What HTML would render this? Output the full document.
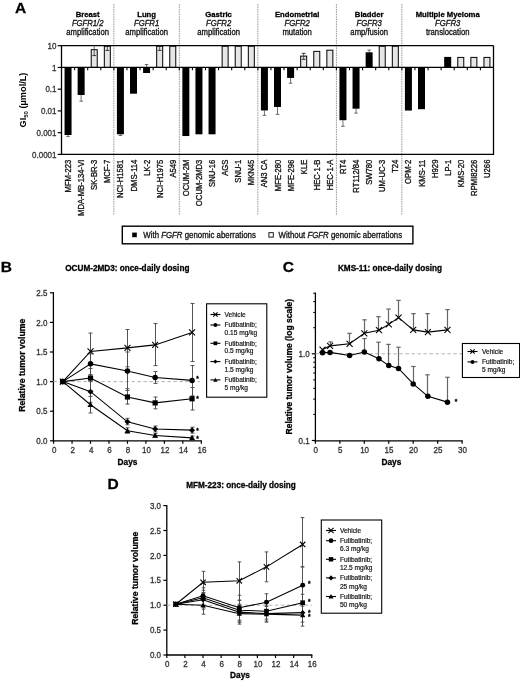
<!DOCTYPE html>
<html><head><meta charset="utf-8"><title>Futibatinib figure</title>
<style>
html,body{margin:0;padding:0;background:#fff;}
body{width:520px;height:681px;overflow:hidden;}
svg{display:block;font-family:"Liberation Sans",Arial,sans-serif;}
</style></head><body>
<svg width="520" height="681" viewBox="0 0 520 681">
<rect width="520" height="681" fill="#fff"/>
<text font-size="15.5" font-weight="bold" text-anchor="start" fill="#000" stroke="#000" stroke-width="0.28" transform="translate(15.00 13.40)">A</text>
<text font-size="15.5" font-weight="bold" text-anchor="start" fill="#000" stroke="#000" stroke-width="0.28" transform="translate(0.80 271.50)">B</text>
<text font-size="15.5" font-weight="bold" text-anchor="start" fill="#000" stroke="#000" stroke-width="0.28" transform="translate(282.80 271.80)">C</text>
<text font-size="15.5" font-weight="bold" text-anchor="start" fill="#000" stroke="#000" stroke-width="0.28" transform="translate(107.50 488.90)">D</text>
<line x1="113.86" y1="4.20" x2="113.86" y2="215.50" stroke="#8c8c8c" stroke-width="0.9" stroke-dasharray="1.5 0.9"/>
<line x1="179.32" y1="4.20" x2="179.32" y2="215.50" stroke="#8c8c8c" stroke-width="0.9" stroke-dasharray="1.5 0.9"/>
<line x1="257.86" y1="4.20" x2="257.86" y2="215.50" stroke="#8c8c8c" stroke-width="0.9" stroke-dasharray="1.5 0.9"/>
<line x1="336.41" y1="4.20" x2="336.41" y2="215.50" stroke="#8c8c8c" stroke-width="0.9" stroke-dasharray="1.5 0.9"/>
<line x1="401.86" y1="4.20" x2="401.86" y2="215.50" stroke="#8c8c8c" stroke-width="0.9" stroke-dasharray="1.5 0.9"/>
<text font-size="7.7" font-weight="bold" text-anchor="middle" fill="#000" stroke="#000" stroke-width="0.28" transform="translate(87.68 16.50)">Breast</text>
<text font-size="7.7" font-style="italic" text-anchor="middle" fill="#111" stroke="#111" stroke-width="0.28" transform="translate(87.68 25.80) scale(1 1.1)">FGFR1/2</text>
<text font-size="7.7" text-anchor="middle" fill="#111" stroke="#111" stroke-width="0.28" transform="translate(87.68 35.10) scale(1 1.1)">amplification</text>
<text font-size="7.7" font-weight="bold" text-anchor="middle" fill="#000" stroke="#000" stroke-width="0.28" transform="translate(146.59 16.50)">Lung</text>
<text font-size="7.7" font-style="italic" text-anchor="middle" fill="#111" stroke="#111" stroke-width="0.28" transform="translate(146.59 25.80) scale(1 1.1)">FGFR1</text>
<text font-size="7.7" text-anchor="middle" fill="#111" stroke="#111" stroke-width="0.28" transform="translate(146.59 35.10) scale(1 1.1)">amplification</text>
<text font-size="7.7" font-weight="bold" text-anchor="middle" fill="#000" stroke="#000" stroke-width="0.28" transform="translate(218.59 16.50)">Gastric</text>
<text font-size="7.7" font-style="italic" text-anchor="middle" fill="#111" stroke="#111" stroke-width="0.28" transform="translate(218.59 25.80) scale(1 1.1)">FGFR2</text>
<text font-size="7.7" text-anchor="middle" fill="#111" stroke="#111" stroke-width="0.28" transform="translate(218.59 35.10) scale(1 1.1)">amplification</text>
<text font-size="7.7" font-weight="bold" text-anchor="middle" fill="#000" stroke="#000" stroke-width="0.28" transform="translate(297.14 16.50)">Endometrial</text>
<text font-size="7.7" font-style="italic" text-anchor="middle" fill="#111" stroke="#111" stroke-width="0.28" transform="translate(297.14 25.80) scale(1 1.1)">FGFR2</text>
<text font-size="7.7" text-anchor="middle" fill="#111" stroke="#111" stroke-width="0.28" transform="translate(297.14 35.10) scale(1 1.1)">mutation</text>
<text font-size="7.7" font-weight="bold" text-anchor="middle" fill="#000" stroke="#000" stroke-width="0.28" transform="translate(369.14 16.50)">Bladder</text>
<text font-size="7.7" font-style="italic" text-anchor="middle" fill="#111" stroke="#111" stroke-width="0.28" transform="translate(369.14 25.80) scale(1 1.1)">FGFR3</text>
<text font-size="7.7" text-anchor="middle" fill="#111" stroke="#111" stroke-width="0.28" transform="translate(369.14 35.10) scale(1 1.1)">amp/fusion</text>
<text font-size="7.7" font-weight="bold" text-anchor="middle" fill="#000" stroke="#000" stroke-width="0.28" transform="translate(447.68 16.50)">Multiple Myeloma</text>
<text font-size="7.7" font-style="italic" text-anchor="middle" fill="#111" stroke="#111" stroke-width="0.28" transform="translate(447.68 25.80) scale(1 1.1)">FGFR3</text>
<text font-size="7.7" text-anchor="middle" fill="#111" stroke="#111" stroke-width="0.28" transform="translate(447.68 35.10) scale(1 1.1)">translocation</text>
<line x1="68.05" y1="135.01" x2="68.05" y2="136.60" stroke="#333" stroke-width="0.7" />
<line x1="66.25" y1="136.60" x2="69.85" y2="136.60" stroke="#333" stroke-width="0.7" />
<rect x="64.55" y="67.44" width="7.00" height="67.57" fill="#000" stroke="none" stroke-width="0"/>
<line x1="81.14" y1="95.00" x2="81.14" y2="101.20" stroke="#333" stroke-width="0.7" />
<line x1="79.34" y1="101.20" x2="82.94" y2="101.20" stroke="#333" stroke-width="0.7" />
<rect x="77.64" y="67.44" width="7.00" height="27.56" fill="#000" stroke="none" stroke-width="0"/>
<rect x="91.23" y="49.70" width="6.00" height="17.74" fill="#e6e6e6" stroke="#000" stroke-width="1"/>
<rect x="104.32" y="46.20" width="6.00" height="21.24" fill="#e6e6e6" stroke="#000" stroke-width="1"/>
<line x1="120.41" y1="134.31" x2="120.41" y2="135.50" stroke="#333" stroke-width="0.7" />
<line x1="118.61" y1="135.50" x2="122.21" y2="135.50" stroke="#333" stroke-width="0.7" />
<rect x="116.91" y="67.44" width="7.00" height="66.87" fill="#000" stroke="none" stroke-width="0"/>
<rect x="130.00" y="67.44" width="7.00" height="26.25" fill="#000" stroke="none" stroke-width="0"/>
<line x1="146.59" y1="73.00" x2="146.59" y2="64.50" stroke="#333" stroke-width="0.7" />
<line x1="144.79" y1="64.50" x2="148.39" y2="64.50" stroke="#333" stroke-width="0.7" />
<rect x="143.09" y="67.44" width="7.00" height="5.56" fill="#000" stroke="none" stroke-width="0"/>
<rect x="156.68" y="46.20" width="6.00" height="21.24" fill="#e6e6e6" stroke="#000" stroke-width="1"/>
<rect x="169.77" y="46.20" width="6.00" height="21.24" fill="#e6e6e6" stroke="#000" stroke-width="1"/>
<rect x="182.36" y="67.44" width="7.00" height="68.59" fill="#000" stroke="none" stroke-width="0"/>
<rect x="195.45" y="67.44" width="7.00" height="66.87" fill="#000" stroke="none" stroke-width="0"/>
<rect x="208.55" y="67.44" width="7.00" height="66.87" fill="#000" stroke="none" stroke-width="0"/>
<rect x="222.14" y="46.20" width="6.00" height="21.24" fill="#e6e6e6" stroke="#000" stroke-width="1"/>
<rect x="235.23" y="46.20" width="6.00" height="21.24" fill="#e6e6e6" stroke="#000" stroke-width="1"/>
<rect x="248.32" y="46.20" width="6.00" height="21.24" fill="#e6e6e6" stroke="#000" stroke-width="1"/>
<line x1="264.41" y1="110.46" x2="264.41" y2="115.40" stroke="#333" stroke-width="0.7" />
<line x1="262.61" y1="115.40" x2="266.21" y2="115.40" stroke="#333" stroke-width="0.7" />
<rect x="260.91" y="67.44" width="7.00" height="43.02" fill="#000" stroke="none" stroke-width="0"/>
<line x1="277.50" y1="106.97" x2="277.50" y2="114.40" stroke="#333" stroke-width="0.7" />
<line x1="275.70" y1="114.40" x2="279.30" y2="114.40" stroke="#333" stroke-width="0.7" />
<rect x="274.00" y="67.44" width="7.00" height="39.53" fill="#000" stroke="none" stroke-width="0"/>
<line x1="290.59" y1="77.91" x2="290.59" y2="83.20" stroke="#333" stroke-width="0.7" />
<line x1="288.79" y1="83.20" x2="292.39" y2="83.20" stroke="#333" stroke-width="0.7" />
<rect x="287.09" y="67.44" width="7.00" height="10.47" fill="#000" stroke="none" stroke-width="0"/>
<rect x="300.68" y="56.11" width="6.00" height="11.33" fill="#e6e6e6" stroke="#000" stroke-width="1"/>
<rect x="313.77" y="51.39" width="6.00" height="16.05" fill="#e6e6e6" stroke="#000" stroke-width="1"/>
<rect x="326.86" y="50.19" width="6.00" height="17.25" fill="#e6e6e6" stroke="#000" stroke-width="1"/>
<line x1="342.95" y1="120.21" x2="342.95" y2="126.30" stroke="#333" stroke-width="0.7" />
<line x1="341.15" y1="126.30" x2="344.75" y2="126.30" stroke="#333" stroke-width="0.7" />
<rect x="339.45" y="67.44" width="7.00" height="52.77" fill="#000" stroke="none" stroke-width="0"/>
<line x1="356.05" y1="108.70" x2="356.05" y2="113.10" stroke="#333" stroke-width="0.7" />
<line x1="354.25" y1="113.10" x2="357.85" y2="113.10" stroke="#333" stroke-width="0.7" />
<rect x="352.55" y="67.44" width="7.00" height="41.26" fill="#000" stroke="none" stroke-width="0"/>
<line x1="369.14" y1="52.30" x2="369.14" y2="50.00" stroke="#333" stroke-width="0.7" />
<line x1="367.34" y1="50.00" x2="370.94" y2="50.00" stroke="#333" stroke-width="0.7" />
<rect x="365.64" y="52.30" width="7.00" height="15.14" fill="#000" stroke="none" stroke-width="0"/>
<rect x="379.23" y="46.20" width="6.00" height="21.24" fill="#e6e6e6" stroke="#000" stroke-width="1"/>
<rect x="392.32" y="46.20" width="6.00" height="21.24" fill="#e6e6e6" stroke="#000" stroke-width="1"/>
<rect x="404.91" y="67.44" width="7.00" height="43.11" fill="#000" stroke="none" stroke-width="0"/>
<rect x="418.00" y="67.44" width="7.00" height="41.76" fill="#000" stroke="none" stroke-width="0"/>
<rect x="444.18" y="56.91" width="7.00" height="10.53" fill="#000" stroke="none" stroke-width="0"/>
<rect x="457.77" y="57.41" width="6.00" height="10.03" fill="#e6e6e6" stroke="#000" stroke-width="1"/>
<rect x="470.86" y="57.41" width="6.00" height="10.03" fill="#e6e6e6" stroke="#000" stroke-width="1"/>
<rect x="483.95" y="57.41" width="6.00" height="10.03" fill="#e6e6e6" stroke="#000" stroke-width="1"/>
<line x1="94.23" y1="46.60" x2="94.23" y2="55.60" stroke="#333" stroke-width="0.8" />
<line x1="92.33" y1="55.60" x2="96.13" y2="55.60" stroke="#222" stroke-width="0.9" />
<line x1="107.32" y1="45.70" x2="107.32" y2="50.40" stroke="#333" stroke-width="0.8" />
<line x1="105.42" y1="50.40" x2="109.22" y2="50.40" stroke="#222" stroke-width="0.9" />
<line x1="159.68" y1="45.70" x2="159.68" y2="50.40" stroke="#333" stroke-width="0.8" />
<line x1="157.78" y1="50.40" x2="161.58" y2="50.40" stroke="#222" stroke-width="0.9" />
<line x1="303.68" y1="53.30" x2="303.68" y2="59.30" stroke="#333" stroke-width="0.8" />
<line x1="301.78" y1="53.30" x2="305.58" y2="53.30" stroke="#222" stroke-width="0.9" />
<line x1="301.78" y1="59.30" x2="305.58" y2="59.30" stroke="#222" stroke-width="0.9" />
<line x1="61.50" y1="67.44" x2="493.50" y2="67.44" stroke="#000" stroke-width="1.2" />
<line x1="74.59" y1="67.44" x2="74.59" y2="70.24" stroke="#000" stroke-width="1.1" />
<line x1="87.68" y1="67.44" x2="87.68" y2="70.24" stroke="#000" stroke-width="1.1" />
<line x1="100.77" y1="67.44" x2="100.77" y2="70.24" stroke="#000" stroke-width="1.1" />
<line x1="113.86" y1="67.44" x2="113.86" y2="70.24" stroke="#000" stroke-width="1.1" />
<line x1="126.95" y1="67.44" x2="126.95" y2="70.24" stroke="#000" stroke-width="1.1" />
<line x1="140.05" y1="67.44" x2="140.05" y2="70.24" stroke="#000" stroke-width="1.1" />
<line x1="153.14" y1="67.44" x2="153.14" y2="70.24" stroke="#000" stroke-width="1.1" />
<line x1="166.23" y1="67.44" x2="166.23" y2="70.24" stroke="#000" stroke-width="1.1" />
<line x1="179.32" y1="67.44" x2="179.32" y2="70.24" stroke="#000" stroke-width="1.1" />
<line x1="192.41" y1="67.44" x2="192.41" y2="70.24" stroke="#000" stroke-width="1.1" />
<line x1="205.50" y1="67.44" x2="205.50" y2="70.24" stroke="#000" stroke-width="1.1" />
<line x1="218.59" y1="67.44" x2="218.59" y2="70.24" stroke="#000" stroke-width="1.1" />
<line x1="231.68" y1="67.44" x2="231.68" y2="70.24" stroke="#000" stroke-width="1.1" />
<line x1="244.77" y1="67.44" x2="244.77" y2="70.24" stroke="#000" stroke-width="1.1" />
<line x1="257.86" y1="67.44" x2="257.86" y2="70.24" stroke="#000" stroke-width="1.1" />
<line x1="270.95" y1="67.44" x2="270.95" y2="70.24" stroke="#000" stroke-width="1.1" />
<line x1="284.05" y1="67.44" x2="284.05" y2="70.24" stroke="#000" stroke-width="1.1" />
<line x1="297.14" y1="67.44" x2="297.14" y2="70.24" stroke="#000" stroke-width="1.1" />
<line x1="310.23" y1="67.44" x2="310.23" y2="70.24" stroke="#000" stroke-width="1.1" />
<line x1="323.32" y1="67.44" x2="323.32" y2="70.24" stroke="#000" stroke-width="1.1" />
<line x1="336.41" y1="67.44" x2="336.41" y2="70.24" stroke="#000" stroke-width="1.1" />
<line x1="349.50" y1="67.44" x2="349.50" y2="70.24" stroke="#000" stroke-width="1.1" />
<line x1="362.59" y1="67.44" x2="362.59" y2="70.24" stroke="#000" stroke-width="1.1" />
<line x1="375.68" y1="67.44" x2="375.68" y2="70.24" stroke="#000" stroke-width="1.1" />
<line x1="388.77" y1="67.44" x2="388.77" y2="70.24" stroke="#000" stroke-width="1.1" />
<line x1="401.86" y1="67.44" x2="401.86" y2="70.24" stroke="#000" stroke-width="1.1" />
<line x1="414.95" y1="67.44" x2="414.95" y2="70.24" stroke="#000" stroke-width="1.1" />
<line x1="428.05" y1="67.44" x2="428.05" y2="70.24" stroke="#000" stroke-width="1.1" />
<line x1="441.14" y1="67.44" x2="441.14" y2="70.24" stroke="#000" stroke-width="1.1" />
<line x1="454.23" y1="67.44" x2="454.23" y2="70.24" stroke="#000" stroke-width="1.1" />
<line x1="467.32" y1="67.44" x2="467.32" y2="70.24" stroke="#000" stroke-width="1.1" />
<line x1="480.41" y1="67.44" x2="480.41" y2="70.24" stroke="#000" stroke-width="1.1" />
<line x1="61.50" y1="45.70" x2="493.50" y2="45.70" stroke="#000" stroke-width="1.3" />
<line x1="493.50" y1="45.70" x2="493.50" y2="154.40" stroke="#000" stroke-width="1.3" />
<line x1="60.90" y1="154.40" x2="494.10" y2="154.40" stroke="#000" stroke-width="1.3" />
<line x1="61.50" y1="45.10" x2="61.50" y2="155.00" stroke="#000" stroke-width="1.3" />
<line x1="57.70" y1="45.70" x2="61.50" y2="45.70" stroke="#000" stroke-width="1.2" />
<text transform="translate(56.50 48.80) scale(1 1.15)" font-size="8" text-anchor="end" fill="#333" stroke="#333" stroke-width="0.28">10</text>
<line x1="57.70" y1="67.44" x2="61.50" y2="67.44" stroke="#000" stroke-width="1.2" />
<text transform="translate(56.50 70.54) scale(1 1.15)" font-size="8" text-anchor="end" fill="#333" stroke="#333" stroke-width="0.28">1</text>
<line x1="57.70" y1="89.18" x2="61.50" y2="89.18" stroke="#000" stroke-width="1.2" />
<text transform="translate(56.50 92.28) scale(1 1.15)" font-size="8" text-anchor="end" fill="#333" stroke="#333" stroke-width="0.28">0.1</text>
<line x1="57.70" y1="110.92" x2="61.50" y2="110.92" stroke="#000" stroke-width="1.2" />
<text transform="translate(56.50 114.02) scale(1 1.15)" font-size="8" text-anchor="end" fill="#333" stroke="#333" stroke-width="0.28">0.01</text>
<line x1="57.70" y1="132.66" x2="61.50" y2="132.66" stroke="#000" stroke-width="1.2" />
<text transform="translate(56.50 135.76) scale(1 1.15)" font-size="8" text-anchor="end" fill="#333" stroke="#333" stroke-width="0.28">0.001</text>
<line x1="57.70" y1="154.40" x2="61.50" y2="154.40" stroke="#000" stroke-width="1.2" />
<text transform="translate(56.50 157.50) scale(1 1.15)" font-size="8" text-anchor="end" fill="#333" stroke="#333" stroke-width="0.28">0.0001</text>
<text transform="translate(25.6 100.0) rotate(-90)" font-size="9.2" font-weight="bold" text-anchor="middle">GI<tspan font-size="6" dy="2.2">50</tspan><tspan dy="-2.2"> (µmol/L)</tspan></text>
<text font-size="7.7" text-anchor="end" fill="#111" stroke="#111" stroke-width="0.28" transform="translate(71.05 159.60) rotate(-90) scale(1 1.1)">MFM-223</text>
<text font-size="7.7" text-anchor="end" fill="#111" stroke="#111" stroke-width="0.28" transform="translate(84.14 159.60) rotate(-90) scale(1 1.1)">MDA-MB-134-VI</text>
<text font-size="7.7" text-anchor="end" fill="#111" stroke="#111" stroke-width="0.28" transform="translate(97.23 159.60) rotate(-90) scale(1 1.1)">SK-BR-3</text>
<text font-size="7.7" text-anchor="end" fill="#111" stroke="#111" stroke-width="0.28" transform="translate(110.32 159.60) rotate(-90) scale(1 1.1)">MCF-7</text>
<text font-size="7.7" text-anchor="end" fill="#111" stroke="#111" stroke-width="0.28" transform="translate(123.41 159.60) rotate(-90) scale(1 1.1)">NCI-H1581</text>
<text font-size="7.7" text-anchor="end" fill="#111" stroke="#111" stroke-width="0.28" transform="translate(136.50 159.60) rotate(-90) scale(1 1.1)">DMS-114</text>
<text font-size="7.7" text-anchor="end" fill="#111" stroke="#111" stroke-width="0.28" transform="translate(149.59 159.60) rotate(-90) scale(1 1.1)">LK-2</text>
<text font-size="7.7" text-anchor="end" fill="#111" stroke="#111" stroke-width="0.28" transform="translate(162.68 159.60) rotate(-90) scale(1 1.1)">NCI-H1975</text>
<text font-size="7.7" text-anchor="end" fill="#111" stroke="#111" stroke-width="0.28" transform="translate(175.77 159.60) rotate(-90) scale(1 1.1)">A549</text>
<text font-size="7.7" text-anchor="end" fill="#111" stroke="#111" stroke-width="0.28" transform="translate(188.86 159.60) rotate(-90) scale(1 1.1)">OCUM-2M</text>
<text font-size="7.7" text-anchor="end" fill="#111" stroke="#111" stroke-width="0.28" transform="translate(201.95 159.60) rotate(-90) scale(1 1.1)">OCUM-2MD3</text>
<text font-size="7.7" text-anchor="end" fill="#111" stroke="#111" stroke-width="0.28" transform="translate(215.05 159.60) rotate(-90) scale(1 1.1)">SNU-16</text>
<text font-size="7.7" text-anchor="end" fill="#111" stroke="#111" stroke-width="0.28" transform="translate(228.14 159.60) rotate(-90) scale(1 1.1)">AGS</text>
<text font-size="7.7" text-anchor="end" fill="#111" stroke="#111" stroke-width="0.28" transform="translate(241.23 159.60) rotate(-90) scale(1 1.1)">SNU-1</text>
<text font-size="7.7" text-anchor="end" fill="#111" stroke="#111" stroke-width="0.28" transform="translate(254.32 159.60) rotate(-90) scale(1 1.1)">MKN45</text>
<text font-size="7.7" text-anchor="end" fill="#111" stroke="#111" stroke-width="0.28" transform="translate(267.41 159.60) rotate(-90) scale(1 1.1)">AN3 CA</text>
<text font-size="7.7" text-anchor="end" fill="#111" stroke="#111" stroke-width="0.28" transform="translate(280.50 159.60) rotate(-90) scale(1 1.1)">MFE-280</text>
<text font-size="7.7" text-anchor="end" fill="#111" stroke="#111" stroke-width="0.28" transform="translate(293.59 159.60) rotate(-90) scale(1 1.1)">MFE-296</text>
<text font-size="7.7" text-anchor="end" fill="#111" stroke="#111" stroke-width="0.28" transform="translate(306.68 159.60) rotate(-90) scale(1 1.1)">KLE</text>
<text font-size="7.7" text-anchor="end" fill="#111" stroke="#111" stroke-width="0.28" transform="translate(319.77 159.60) rotate(-90) scale(1 1.1)">HEC-1-B</text>
<text font-size="7.7" text-anchor="end" fill="#111" stroke="#111" stroke-width="0.28" transform="translate(332.86 159.60) rotate(-90) scale(1 1.1)">HEC-1-A</text>
<text font-size="7.7" text-anchor="end" fill="#111" stroke="#111" stroke-width="0.28" transform="translate(345.95 159.60) rotate(-90) scale(1 1.1)">RT4</text>
<text font-size="7.7" text-anchor="end" fill="#111" stroke="#111" stroke-width="0.28" transform="translate(359.05 159.60) rotate(-90) scale(1 1.1)">RT112/84</text>
<text font-size="7.7" text-anchor="end" fill="#111" stroke="#111" stroke-width="0.28" transform="translate(372.14 159.60) rotate(-90) scale(1 1.1)">SW780</text>
<text font-size="7.7" text-anchor="end" fill="#111" stroke="#111" stroke-width="0.28" transform="translate(385.23 159.60) rotate(-90) scale(1 1.1)">UM-UC-3</text>
<text font-size="7.7" text-anchor="end" fill="#111" stroke="#111" stroke-width="0.28" transform="translate(398.32 159.60) rotate(-90) scale(1 1.1)">T24</text>
<text font-size="7.7" text-anchor="end" fill="#111" stroke="#111" stroke-width="0.28" transform="translate(411.41 159.60) rotate(-90) scale(1 1.1)">OPM-2</text>
<text font-size="7.7" text-anchor="end" fill="#111" stroke="#111" stroke-width="0.28" transform="translate(424.50 159.60) rotate(-90) scale(1 1.1)">KMS-11</text>
<text font-size="7.7" text-anchor="end" fill="#111" stroke="#111" stroke-width="0.28" transform="translate(437.59 159.60) rotate(-90) scale(1 1.1)">H929</text>
<text font-size="7.7" text-anchor="end" fill="#111" stroke="#111" stroke-width="0.28" transform="translate(450.68 159.60) rotate(-90) scale(1 1.1)">LP-1</text>
<text font-size="7.7" text-anchor="end" fill="#111" stroke="#111" stroke-width="0.28" transform="translate(463.77 159.60) rotate(-90) scale(1 1.1)">KMS-20</text>
<text font-size="7.7" text-anchor="end" fill="#111" stroke="#111" stroke-width="0.28" transform="translate(476.86 159.60) rotate(-90) scale(1 1.1)">RPMI8226</text>
<text font-size="7.7" text-anchor="end" fill="#111" stroke="#111" stroke-width="0.28" transform="translate(489.95 159.60) rotate(-90) scale(1 1.1)">U266</text>
<rect x="122.30" y="226.20" width="290.60" height="17.60" fill="none" stroke="#000" stroke-width="1.4"/>
<rect x="132.20" y="232.60" width="4.60" height="4.60" fill="#000" stroke="none" stroke-width="0"/>
<text font-size="7.85" text-anchor="start" fill="#111" stroke="#111" stroke-width="0.28" transform="translate(143.30 237.60) scale(1 1.1)">With <tspan font-style="italic">FGFR</tspan> genomic aberrations</text>
<rect x="268.90" y="232.70" width="4.40" height="4.40" fill="#fff" stroke="#000" stroke-width="0.9"/>
<text font-size="7.85" text-anchor="start" fill="#111" stroke="#111" stroke-width="0.28" transform="translate(278.60 237.60) scale(1 1.1)">Without <tspan font-style="italic">FGFR</tspan> genomic aberrations</text>
<line x1="53.40" y1="292.20" x2="53.40" y2="441.40" stroke="#000" stroke-width="1.3" />
<line x1="52.80" y1="440.80" x2="201.88" y2="440.80" stroke="#000" stroke-width="1.3" />
<line x1="53.60" y1="440.80" x2="53.60" y2="443.80" stroke="#000" stroke-width="1.2" />
<text transform="translate(54.20 452.70) scale(1 1.15)" font-size="8" text-anchor="middle" fill="#333" stroke="#333" stroke-width="0.28">0</text>
<line x1="72.06" y1="440.80" x2="72.06" y2="443.80" stroke="#000" stroke-width="1.2" />
<text transform="translate(72.66 452.70) scale(1 1.15)" font-size="8" text-anchor="middle" fill="#333" stroke="#333" stroke-width="0.28">2</text>
<line x1="90.52" y1="440.80" x2="90.52" y2="443.80" stroke="#000" stroke-width="1.2" />
<text transform="translate(91.12 452.70) scale(1 1.15)" font-size="8" text-anchor="middle" fill="#333" stroke="#333" stroke-width="0.28">4</text>
<line x1="108.98" y1="440.80" x2="108.98" y2="443.80" stroke="#000" stroke-width="1.2" />
<text transform="translate(109.58 452.70) scale(1 1.15)" font-size="8" text-anchor="middle" fill="#333" stroke="#333" stroke-width="0.28">6</text>
<line x1="127.44" y1="440.80" x2="127.44" y2="443.80" stroke="#000" stroke-width="1.2" />
<text transform="translate(128.04 452.70) scale(1 1.15)" font-size="8" text-anchor="middle" fill="#333" stroke="#333" stroke-width="0.28">8</text>
<line x1="145.90" y1="440.80" x2="145.90" y2="443.80" stroke="#000" stroke-width="1.2" />
<text transform="translate(146.50 452.70) scale(1 1.15)" font-size="8" text-anchor="middle" fill="#333" stroke="#333" stroke-width="0.28">10</text>
<line x1="164.36" y1="440.80" x2="164.36" y2="443.80" stroke="#000" stroke-width="1.2" />
<text transform="translate(164.96 452.70) scale(1 1.15)" font-size="8" text-anchor="middle" fill="#333" stroke="#333" stroke-width="0.28">12</text>
<line x1="182.82" y1="440.80" x2="182.82" y2="443.80" stroke="#000" stroke-width="1.2" />
<text transform="translate(183.42 452.70) scale(1 1.15)" font-size="8" text-anchor="middle" fill="#333" stroke="#333" stroke-width="0.28">14</text>
<line x1="201.28" y1="440.80" x2="201.28" y2="443.80" stroke="#000" stroke-width="1.2" />
<text transform="translate(201.88 452.70) scale(1 1.15)" font-size="8" text-anchor="middle" fill="#333" stroke="#333" stroke-width="0.28">16</text>
<line x1="50.00" y1="440.80" x2="53.40" y2="440.80" stroke="#000" stroke-width="1.2" />
<text transform="translate(47.40 443.90) scale(1 1.15)" font-size="8" text-anchor="end" fill="#333" stroke="#333" stroke-width="0.28">0.0</text>
<line x1="50.00" y1="411.20" x2="53.40" y2="411.20" stroke="#000" stroke-width="1.2" />
<text transform="translate(47.40 414.30) scale(1 1.15)" font-size="8" text-anchor="end" fill="#333" stroke="#333" stroke-width="0.28">0.5</text>
<line x1="50.00" y1="381.60" x2="53.40" y2="381.60" stroke="#000" stroke-width="1.2" />
<text transform="translate(47.40 384.70) scale(1 1.15)" font-size="8" text-anchor="end" fill="#333" stroke="#333" stroke-width="0.28">1.0</text>
<line x1="50.00" y1="352.00" x2="53.40" y2="352.00" stroke="#000" stroke-width="1.2" />
<text transform="translate(47.40 355.10) scale(1 1.15)" font-size="8" text-anchor="end" fill="#333" stroke="#333" stroke-width="0.28">1.5</text>
<line x1="50.00" y1="322.40" x2="53.40" y2="322.40" stroke="#000" stroke-width="1.2" />
<text transform="translate(47.40 325.50) scale(1 1.15)" font-size="8" text-anchor="end" fill="#333" stroke="#333" stroke-width="0.28">2.0</text>
<line x1="50.00" y1="292.80" x2="53.40" y2="292.80" stroke="#000" stroke-width="1.2" />
<text transform="translate(47.40 295.90) scale(1 1.15)" font-size="8" text-anchor="end" fill="#333" stroke="#333" stroke-width="0.28">2.5</text>
<text font-size="8.3" font-weight="bold" text-anchor="middle" fill="#000" stroke="#000" stroke-width="0.28" transform="translate(127.50 464.60)">Days</text>
<text font-size="8.7" font-weight="bold" text-anchor="middle" fill="#000" stroke="#000" stroke-width="0.28" transform="translate(25.20 365.20) rotate(-90)">Relative tumor volume</text>
<text font-size="8.2" font-weight="bold" text-anchor="middle" fill="#000" stroke="#000" stroke-width="0.28" transform="translate(127.30 270.60)">OCUM-2MD3: once-daily dosing</text>
<line x1="53.40" y1="381.60" x2="200.00" y2="381.60" stroke="#aaa" stroke-width="0.9" stroke-dasharray="3.5 2.5"/>
<line x1="90.50" y1="368.58" x2="90.50" y2="333.06" stroke="#4a4a4a" stroke-width="0.95" />
<line x1="88.50" y1="368.58" x2="92.50" y2="368.58" stroke="#4a4a4a" stroke-width="0.95" />
<line x1="88.50" y1="333.06" x2="92.50" y2="333.06" stroke="#4a4a4a" stroke-width="0.95" />
<line x1="127.50" y1="366.80" x2="127.50" y2="329.50" stroke="#4a4a4a" stroke-width="0.95" />
<line x1="125.50" y1="366.80" x2="129.50" y2="366.80" stroke="#4a4a4a" stroke-width="0.95" />
<line x1="125.50" y1="329.50" x2="129.50" y2="329.50" stroke="#4a4a4a" stroke-width="0.95" />
<line x1="155.50" y1="365.62" x2="155.50" y2="323.58" stroke="#4a4a4a" stroke-width="0.95" />
<line x1="153.50" y1="365.62" x2="157.50" y2="365.62" stroke="#4a4a4a" stroke-width="0.95" />
<line x1="153.50" y1="323.58" x2="157.50" y2="323.58" stroke="#4a4a4a" stroke-width="0.95" />
<line x1="192.50" y1="361.47" x2="192.50" y2="303.46" stroke="#4a4a4a" stroke-width="0.95" />
<line x1="190.50" y1="361.47" x2="194.50" y2="361.47" stroke="#4a4a4a" stroke-width="0.95" />
<line x1="190.50" y1="303.46" x2="194.50" y2="303.46" stroke="#4a4a4a" stroke-width="0.95" />
<line x1="90.50" y1="374.50" x2="90.50" y2="353.78" stroke="#4a4a4a" stroke-width="0.95" />
<line x1="88.50" y1="374.50" x2="92.50" y2="374.50" stroke="#4a4a4a" stroke-width="0.95" />
<line x1="88.50" y1="353.78" x2="92.50" y2="353.78" stroke="#4a4a4a" stroke-width="0.95" />
<line x1="127.50" y1="390.48" x2="127.50" y2="352.00" stroke="#4a4a4a" stroke-width="0.95" />
<line x1="125.50" y1="390.48" x2="129.50" y2="390.48" stroke="#4a4a4a" stroke-width="0.95" />
<line x1="125.50" y1="352.00" x2="129.50" y2="352.00" stroke="#4a4a4a" stroke-width="0.95" />
<line x1="155.50" y1="383.38" x2="155.50" y2="371.54" stroke="#4a4a4a" stroke-width="0.95" />
<line x1="153.50" y1="383.38" x2="157.50" y2="383.38" stroke="#4a4a4a" stroke-width="0.95" />
<line x1="153.50" y1="371.54" x2="157.50" y2="371.54" stroke="#4a4a4a" stroke-width="0.95" />
<line x1="192.50" y1="395.81" x2="192.50" y2="365.62" stroke="#4a4a4a" stroke-width="0.95" />
<line x1="190.50" y1="395.81" x2="194.50" y2="395.81" stroke="#4a4a4a" stroke-width="0.95" />
<line x1="190.50" y1="365.62" x2="194.50" y2="365.62" stroke="#4a4a4a" stroke-width="0.95" />
<line x1="90.50" y1="390.48" x2="90.50" y2="365.02" stroke="#4a4a4a" stroke-width="0.95" />
<line x1="88.50" y1="390.48" x2="92.50" y2="390.48" stroke="#4a4a4a" stroke-width="0.95" />
<line x1="88.50" y1="365.02" x2="92.50" y2="365.02" stroke="#4a4a4a" stroke-width="0.95" />
<line x1="127.50" y1="404.10" x2="127.50" y2="388.70" stroke="#4a4a4a" stroke-width="0.95" />
<line x1="125.50" y1="404.10" x2="129.50" y2="404.10" stroke="#4a4a4a" stroke-width="0.95" />
<line x1="125.50" y1="388.70" x2="129.50" y2="388.70" stroke="#4a4a4a" stroke-width="0.95" />
<line x1="155.50" y1="408.83" x2="155.50" y2="396.99" stroke="#4a4a4a" stroke-width="0.95" />
<line x1="153.50" y1="408.83" x2="157.50" y2="408.83" stroke="#4a4a4a" stroke-width="0.95" />
<line x1="153.50" y1="396.99" x2="157.50" y2="396.99" stroke="#4a4a4a" stroke-width="0.95" />
<line x1="192.50" y1="410.02" x2="192.50" y2="387.52" stroke="#4a4a4a" stroke-width="0.95" />
<line x1="190.50" y1="410.02" x2="194.50" y2="410.02" stroke="#4a4a4a" stroke-width="0.95" />
<line x1="190.50" y1="387.52" x2="194.50" y2="387.52" stroke="#4a4a4a" stroke-width="0.95" />
<line x1="90.50" y1="402.32" x2="90.50" y2="381.60" stroke="#4a4a4a" stroke-width="0.95" />
<line x1="88.50" y1="402.32" x2="92.50" y2="402.32" stroke="#4a4a4a" stroke-width="0.95" />
<line x1="88.50" y1="381.60" x2="92.50" y2="381.60" stroke="#4a4a4a" stroke-width="0.95" />
<line x1="127.50" y1="424.82" x2="127.50" y2="418.30" stroke="#4a4a4a" stroke-width="0.95" />
<line x1="125.50" y1="424.82" x2="129.50" y2="424.82" stroke="#4a4a4a" stroke-width="0.95" />
<line x1="125.50" y1="418.30" x2="129.50" y2="418.30" stroke="#4a4a4a" stroke-width="0.95" />
<line x1="155.50" y1="431.92" x2="155.50" y2="426.00" stroke="#4a4a4a" stroke-width="0.95" />
<line x1="153.50" y1="431.92" x2="157.50" y2="431.92" stroke="#4a4a4a" stroke-width="0.95" />
<line x1="153.50" y1="426.00" x2="157.50" y2="426.00" stroke="#4a4a4a" stroke-width="0.95" />
<line x1="192.50" y1="433.10" x2="192.50" y2="427.18" stroke="#4a4a4a" stroke-width="0.95" />
<line x1="190.50" y1="433.10" x2="194.50" y2="433.10" stroke="#4a4a4a" stroke-width="0.95" />
<line x1="190.50" y1="427.18" x2="194.50" y2="427.18" stroke="#4a4a4a" stroke-width="0.95" />
<line x1="90.50" y1="412.98" x2="90.50" y2="396.40" stroke="#4a4a4a" stroke-width="0.95" />
<line x1="88.50" y1="412.98" x2="92.50" y2="412.98" stroke="#4a4a4a" stroke-width="0.95" />
<line x1="88.50" y1="396.40" x2="92.50" y2="396.40" stroke="#4a4a4a" stroke-width="0.95" />
<line x1="127.50" y1="433.10" x2="127.50" y2="427.78" stroke="#4a4a4a" stroke-width="0.95" />
<line x1="125.50" y1="433.10" x2="129.50" y2="433.10" stroke="#4a4a4a" stroke-width="0.95" />
<line x1="125.50" y1="427.78" x2="129.50" y2="427.78" stroke="#4a4a4a" stroke-width="0.95" />
<line x1="155.50" y1="437.25" x2="155.50" y2="433.70" stroke="#4a4a4a" stroke-width="0.95" />
<line x1="153.50" y1="437.25" x2="157.50" y2="437.25" stroke="#4a4a4a" stroke-width="0.95" />
<line x1="153.50" y1="433.70" x2="157.50" y2="433.70" stroke="#4a4a4a" stroke-width="0.95" />
<line x1="192.50" y1="439.62" x2="192.50" y2="436.06" stroke="#4a4a4a" stroke-width="0.95" />
<line x1="190.50" y1="439.62" x2="194.50" y2="439.62" stroke="#4a4a4a" stroke-width="0.95" />
<line x1="190.50" y1="436.06" x2="194.50" y2="436.06" stroke="#4a4a4a" stroke-width="0.95" />
<polyline points="62.83,381.60 90.52,351.41 127.44,347.86 155.13,344.90 192.05,332.46" fill="none" stroke="#000" stroke-width="1.1"/>
<line x1="59.83" y1="378.60" x2="65.83" y2="384.60" stroke="#000" stroke-width="1.1" />
<line x1="59.83" y1="384.60" x2="65.83" y2="378.60" stroke="#000" stroke-width="1.1" />
<line x1="87.52" y1="348.41" x2="93.52" y2="354.41" stroke="#000" stroke-width="1.1" />
<line x1="87.52" y1="354.41" x2="93.52" y2="348.41" stroke="#000" stroke-width="1.1" />
<line x1="124.44" y1="344.86" x2="130.44" y2="350.86" stroke="#000" stroke-width="1.1" />
<line x1="124.44" y1="350.86" x2="130.44" y2="344.86" stroke="#000" stroke-width="1.1" />
<line x1="152.13" y1="341.90" x2="158.13" y2="347.90" stroke="#000" stroke-width="1.1" />
<line x1="152.13" y1="347.90" x2="158.13" y2="341.90" stroke="#000" stroke-width="1.1" />
<line x1="189.05" y1="329.46" x2="195.05" y2="335.46" stroke="#000" stroke-width="1.1" />
<line x1="189.05" y1="335.46" x2="195.05" y2="329.46" stroke="#000" stroke-width="1.1" />
<polyline points="62.83,381.60 90.52,363.84 127.44,370.94 155.13,377.46 192.05,380.42" fill="none" stroke="#000" stroke-width="1.1"/>
<circle cx="62.83" cy="381.60" r="2.75" fill="#000"/>
<circle cx="90.52" cy="363.84" r="2.75" fill="#000"/>
<circle cx="127.44" cy="370.94" r="2.75" fill="#000"/>
<circle cx="155.13" cy="377.46" r="2.75" fill="#000"/>
<circle cx="192.05" cy="380.42" r="2.75" fill="#000"/>
<polyline points="62.83,381.60 90.52,378.05 127.44,396.99 155.13,402.91 192.05,398.77" fill="none" stroke="#000" stroke-width="1.1"/>
<rect x="60.23" y="379.00" width="5.20" height="5.20" fill="#000" stroke="none" stroke-width="0"/>
<rect x="87.92" y="375.45" width="5.20" height="5.20" fill="#000" stroke="none" stroke-width="0"/>
<rect x="124.84" y="394.39" width="5.20" height="5.20" fill="#000" stroke="none" stroke-width="0"/>
<rect x="152.53" y="400.31" width="5.20" height="5.20" fill="#000" stroke="none" stroke-width="0"/>
<rect x="189.45" y="396.17" width="5.20" height="5.20" fill="#000" stroke="none" stroke-width="0"/>
<polyline points="62.83,381.60 90.52,391.66 127.44,421.86 155.13,428.96 192.05,430.14" fill="none" stroke="#000" stroke-width="1.1"/>
<polygon points="62.83,378.60 65.83,381.60 62.83,384.60 59.83,381.60" fill="#000"/>
<polygon points="90.52,388.66 93.52,391.66 90.52,394.66 87.52,391.66" fill="#000"/>
<polygon points="127.44,418.86 130.44,421.86 127.44,424.86 124.44,421.86" fill="#000"/>
<polygon points="155.13,425.96 158.13,428.96 155.13,431.96 152.13,428.96" fill="#000"/>
<polygon points="192.05,427.14 195.05,430.14 192.05,433.14 189.05,430.14" fill="#000"/>
<polyline points="62.83,381.60 90.52,404.69 127.44,430.74 155.13,435.47 192.05,437.84" fill="none" stroke="#000" stroke-width="1.1"/>
<polygon points="62.83,378.60 65.83,384.00 59.83,384.00" fill="#000"/>
<polygon points="90.52,401.69 93.52,407.09 87.52,407.09" fill="#000"/>
<polygon points="127.44,427.74 130.44,433.14 124.44,433.14" fill="#000"/>
<polygon points="155.13,432.47 158.13,437.87 152.13,437.87" fill="#000"/>
<polygon points="192.05,434.84 195.05,440.24 189.05,440.24" fill="#000"/>
<text font-size="6.5" font-weight="bold" text-anchor="start" fill="#000" stroke="#000" stroke-width="0.28" transform="translate(196.30 381.10)">*</text>
<text font-size="6.5" font-weight="bold" text-anchor="start" fill="#000" stroke="#000" stroke-width="0.28" transform="translate(196.30 400.70)">*</text>
<text font-size="6.5" font-weight="bold" text-anchor="start" fill="#000" stroke="#000" stroke-width="0.28" transform="translate(196.30 432.95)">*</text>
<text font-size="6.5" font-weight="bold" text-anchor="start" fill="#000" stroke="#000" stroke-width="0.28" transform="translate(196.30 441.30)">*</text>
<rect x="206.60" y="303.80" width="60.20" height="93.40" fill="#fff" stroke="#000" stroke-width="1.1"/>
<line x1="210.40" y1="314.50" x2="220.40" y2="314.50" stroke="#000" stroke-width="1.1" />
<line x1="213.24" y1="312.34" x2="217.56" y2="316.66" stroke="#000" stroke-width="1.1" />
<line x1="213.24" y1="316.66" x2="217.56" y2="312.34" stroke="#000" stroke-width="1.1" />
<text font-size="6.6" text-anchor="start" fill="#111" stroke="#111" stroke-width="0.18" transform="translate(224.50 316.80)">Vehicle</text>
<line x1="210.40" y1="325.00" x2="220.40" y2="325.00" stroke="#000" stroke-width="1.1" />
<circle cx="215.40" cy="325.00" r="1.98" fill="#000"/>
<text font-size="6.6" text-anchor="start" fill="#111" stroke="#111" stroke-width="0.18" transform="translate(224.50 327.30)">Futibatinib;</text>
<text font-size="6.6" text-anchor="start" fill="#111" stroke="#111" stroke-width="0.18" transform="translate(224.50 335.10)">0.15 mg/kg</text>
<line x1="210.40" y1="343.30" x2="220.40" y2="343.30" stroke="#000" stroke-width="1.1" />
<rect x="213.53" y="341.43" width="3.74" height="3.74" fill="#000" stroke="none" stroke-width="0"/>
<text font-size="6.6" text-anchor="start" fill="#111" stroke="#111" stroke-width="0.18" transform="translate(224.50 345.60)">Futibatinib;</text>
<text font-size="6.6" text-anchor="start" fill="#111" stroke="#111" stroke-width="0.18" transform="translate(224.50 353.40)">0.5 mg/kg</text>
<line x1="210.40" y1="361.60" x2="220.40" y2="361.60" stroke="#000" stroke-width="1.1" />
<polygon points="215.40,359.44 217.56,361.60 215.40,363.76 213.24,361.60" fill="#000"/>
<text font-size="6.6" text-anchor="start" fill="#111" stroke="#111" stroke-width="0.18" transform="translate(224.50 363.90)">Futibatinib;</text>
<text font-size="6.6" text-anchor="start" fill="#111" stroke="#111" stroke-width="0.18" transform="translate(224.50 371.70)">1.5 mg/kg</text>
<line x1="210.40" y1="379.90" x2="220.40" y2="379.90" stroke="#000" stroke-width="1.1" />
<polygon points="215.40,377.74 217.56,381.63 213.24,381.63" fill="#000"/>
<text font-size="6.6" text-anchor="start" fill="#111" stroke="#111" stroke-width="0.18" transform="translate(224.50 382.20)">Futibatinib;</text>
<text font-size="6.6" text-anchor="start" fill="#111" stroke="#111" stroke-width="0.18" transform="translate(224.50 390.00)">5 mg/kg</text>
<line x1="315.40" y1="292.60" x2="315.40" y2="441.40" stroke="#000" stroke-width="1.3" />
<line x1="314.80" y1="440.80" x2="462.70" y2="440.80" stroke="#000" stroke-width="1.3" />
<line x1="315.40" y1="440.80" x2="315.40" y2="443.80" stroke="#000" stroke-width="1.2" />
<text transform="translate(315.70 452.70) scale(1 1.15)" font-size="8" text-anchor="middle" fill="#333" stroke="#333" stroke-width="0.28">0</text>
<line x1="339.85" y1="440.80" x2="339.85" y2="443.80" stroke="#000" stroke-width="1.2" />
<text transform="translate(340.15 452.70) scale(1 1.15)" font-size="8" text-anchor="middle" fill="#333" stroke="#333" stroke-width="0.28">5</text>
<line x1="364.30" y1="440.80" x2="364.30" y2="443.80" stroke="#000" stroke-width="1.2" />
<text transform="translate(364.60 452.70) scale(1 1.15)" font-size="8" text-anchor="middle" fill="#333" stroke="#333" stroke-width="0.28">10</text>
<line x1="388.75" y1="440.80" x2="388.75" y2="443.80" stroke="#000" stroke-width="1.2" />
<text transform="translate(389.05 452.70) scale(1 1.15)" font-size="8" text-anchor="middle" fill="#333" stroke="#333" stroke-width="0.28">15</text>
<line x1="413.20" y1="440.80" x2="413.20" y2="443.80" stroke="#000" stroke-width="1.2" />
<text transform="translate(413.50 452.70) scale(1 1.15)" font-size="8" text-anchor="middle" fill="#333" stroke="#333" stroke-width="0.28">20</text>
<line x1="437.65" y1="440.80" x2="437.65" y2="443.80" stroke="#000" stroke-width="1.2" />
<text transform="translate(437.95 452.70) scale(1 1.15)" font-size="8" text-anchor="middle" fill="#333" stroke="#333" stroke-width="0.28">25</text>
<line x1="462.10" y1="440.80" x2="462.10" y2="443.80" stroke="#000" stroke-width="1.2" />
<text transform="translate(462.40 452.70) scale(1 1.15)" font-size="8" text-anchor="middle" fill="#333" stroke="#333" stroke-width="0.28">30</text>
<line x1="313.20" y1="414.40" x2="315.40" y2="414.40" stroke="#000" stroke-width="1.0" />
<line x1="313.20" y1="399.13" x2="315.40" y2="399.13" stroke="#000" stroke-width="1.0" />
<line x1="313.20" y1="388.30" x2="315.40" y2="388.30" stroke="#000" stroke-width="1.0" />
<line x1="313.20" y1="379.90" x2="315.40" y2="379.90" stroke="#000" stroke-width="1.0" />
<line x1="313.20" y1="373.03" x2="315.40" y2="373.03" stroke="#000" stroke-width="1.0" />
<line x1="313.20" y1="367.23" x2="315.40" y2="367.23" stroke="#000" stroke-width="1.0" />
<line x1="313.20" y1="362.20" x2="315.40" y2="362.20" stroke="#000" stroke-width="1.0" />
<line x1="313.20" y1="357.77" x2="315.40" y2="357.77" stroke="#000" stroke-width="1.0" />
<line x1="313.20" y1="327.70" x2="315.40" y2="327.70" stroke="#000" stroke-width="1.0" />
<line x1="313.20" y1="312.43" x2="315.40" y2="312.43" stroke="#000" stroke-width="1.0" />
<line x1="313.20" y1="301.60" x2="315.40" y2="301.60" stroke="#000" stroke-width="1.0" />
<line x1="313.20" y1="293.20" x2="315.40" y2="293.20" stroke="#000" stroke-width="1.0" />
<line x1="311.80" y1="440.50" x2="315.40" y2="440.50" stroke="#000" stroke-width="1.2" />
<text transform="translate(309.60 443.60) scale(1 1.15)" font-size="8" text-anchor="end" fill="#333" stroke="#333" stroke-width="0.28">0.1</text>
<line x1="311.80" y1="353.80" x2="315.40" y2="353.80" stroke="#000" stroke-width="1.2" />
<text transform="translate(309.60 356.90) scale(1 1.15)" font-size="8" text-anchor="end" fill="#333" stroke="#333" stroke-width="0.28">1.0</text>
<text font-size="8.3" font-weight="bold" text-anchor="middle" fill="#000" stroke="#000" stroke-width="0.28" transform="translate(391.40 464.60)">Days</text>
<text font-size="8.5" font-weight="bold" text-anchor="middle" fill="#000" stroke="#000" stroke-width="0.28" transform="translate(292.40 366.70) rotate(-90)">Relative tumor volume (log scale)</text>
<text font-size="8.2" font-weight="bold" text-anchor="middle" fill="#000" stroke="#000" stroke-width="0.28" transform="translate(390.00 270.80)">KMS-11: once-daily dosing</text>
<line x1="315.40" y1="353.80" x2="462.00" y2="353.80" stroke="#aaa" stroke-width="0.9" stroke-dasharray="3.5 2.5"/>
<line x1="330.50" y1="345.91" x2="330.50" y2="341.89" stroke="#666" stroke-width="1.2" />
<line x1="328.30" y1="341.89" x2="332.70" y2="341.89" stroke="#666" stroke-width="1.2" />
<line x1="349.50" y1="343.81" x2="349.50" y2="333.31" stroke="#666" stroke-width="1.2" />
<line x1="347.30" y1="333.31" x2="351.70" y2="333.31" stroke="#666" stroke-width="1.2" />
<line x1="364.50" y1="333.31" x2="364.50" y2="319.80" stroke="#666" stroke-width="1.2" />
<line x1="362.30" y1="319.80" x2="366.70" y2="319.80" stroke="#666" stroke-width="1.2" />
<line x1="378.50" y1="330.21" x2="378.50" y2="316.69" stroke="#666" stroke-width="1.2" />
<line x1="376.30" y1="316.69" x2="380.70" y2="316.69" stroke="#666" stroke-width="1.2" />
<line x1="388.50" y1="324.40" x2="388.50" y2="309.02" stroke="#666" stroke-width="1.2" />
<line x1="386.30" y1="309.02" x2="390.70" y2="309.02" stroke="#666" stroke-width="1.2" />
<line x1="398.50" y1="317.61" x2="398.50" y2="300.40" stroke="#666" stroke-width="1.2" />
<line x1="396.30" y1="300.40" x2="400.70" y2="300.40" stroke="#666" stroke-width="1.2" />
<line x1="413.50" y1="329.89" x2="413.50" y2="313.62" stroke="#666" stroke-width="1.2" />
<line x1="411.30" y1="313.62" x2="415.70" y2="313.62" stroke="#666" stroke-width="1.2" />
<line x1="427.50" y1="332.11" x2="427.50" y2="313.62" stroke="#666" stroke-width="1.2" />
<line x1="425.30" y1="313.62" x2="429.70" y2="313.62" stroke="#666" stroke-width="1.2" />
<line x1="447.50" y1="329.89" x2="447.50" y2="309.61" stroke="#666" stroke-width="1.2" />
<line x1="445.30" y1="309.61" x2="449.70" y2="309.61" stroke="#666" stroke-width="1.2" />
<line x1="364.50" y1="352.00" x2="364.50" y2="338.53" stroke="#666" stroke-width="1.2" />
<line x1="362.30" y1="338.53" x2="366.70" y2="338.53" stroke="#666" stroke-width="1.2" />
<line x1="378.50" y1="358.78" x2="378.50" y2="342.22" stroke="#666" stroke-width="1.2" />
<line x1="376.30" y1="342.22" x2="380.70" y2="342.22" stroke="#666" stroke-width="1.2" />
<line x1="388.50" y1="365.60" x2="388.50" y2="344.39" stroke="#666" stroke-width="1.2" />
<line x1="386.30" y1="344.39" x2="390.70" y2="344.39" stroke="#666" stroke-width="1.2" />
<line x1="398.50" y1="368.38" x2="398.50" y2="347.22" stroke="#666" stroke-width="1.2" />
<line x1="396.30" y1="347.22" x2="400.70" y2="347.22" stroke="#666" stroke-width="1.2" />
<line x1="413.50" y1="383.95" x2="413.50" y2="366.48" stroke="#666" stroke-width="1.2" />
<line x1="411.30" y1="366.48" x2="415.70" y2="366.48" stroke="#666" stroke-width="1.2" />
<line x1="427.50" y1="396.35" x2="427.50" y2="374.77" stroke="#666" stroke-width="1.2" />
<line x1="425.30" y1="374.77" x2="429.70" y2="374.77" stroke="#666" stroke-width="1.2" />
<line x1="447.50" y1="402.14" x2="447.50" y2="377.28" stroke="#666" stroke-width="1.2" />
<line x1="445.30" y1="377.28" x2="449.70" y2="377.28" stroke="#666" stroke-width="1.2" />
<polyline points="322.49,349.60 330.07,345.91 349.63,343.81 364.30,333.31 378.97,330.21 388.75,324.40 398.53,317.61 413.20,329.89 427.87,332.11 447.43,329.89" fill="none" stroke="#000" stroke-width="1.1"/>
<line x1="319.49" y1="346.60" x2="325.49" y2="352.60" stroke="#000" stroke-width="1.1" />
<line x1="319.49" y1="352.60" x2="325.49" y2="346.60" stroke="#000" stroke-width="1.1" />
<line x1="327.07" y1="342.91" x2="333.07" y2="348.91" stroke="#000" stroke-width="1.1" />
<line x1="327.07" y1="348.91" x2="333.07" y2="342.91" stroke="#000" stroke-width="1.1" />
<line x1="346.63" y1="340.81" x2="352.63" y2="346.81" stroke="#000" stroke-width="1.1" />
<line x1="346.63" y1="346.81" x2="352.63" y2="340.81" stroke="#000" stroke-width="1.1" />
<line x1="361.30" y1="330.31" x2="367.30" y2="336.31" stroke="#000" stroke-width="1.1" />
<line x1="361.30" y1="336.31" x2="367.30" y2="330.31" stroke="#000" stroke-width="1.1" />
<line x1="375.97" y1="327.21" x2="381.97" y2="333.21" stroke="#000" stroke-width="1.1" />
<line x1="375.97" y1="333.21" x2="381.97" y2="327.21" stroke="#000" stroke-width="1.1" />
<line x1="385.75" y1="321.40" x2="391.75" y2="327.40" stroke="#000" stroke-width="1.1" />
<line x1="385.75" y1="327.40" x2="391.75" y2="321.40" stroke="#000" stroke-width="1.1" />
<line x1="395.53" y1="314.61" x2="401.53" y2="320.61" stroke="#000" stroke-width="1.1" />
<line x1="395.53" y1="320.61" x2="401.53" y2="314.61" stroke="#000" stroke-width="1.1" />
<line x1="410.20" y1="326.89" x2="416.20" y2="332.89" stroke="#000" stroke-width="1.1" />
<line x1="410.20" y1="332.89" x2="416.20" y2="326.89" stroke="#000" stroke-width="1.1" />
<line x1="424.87" y1="329.11" x2="430.87" y2="335.11" stroke="#000" stroke-width="1.1" />
<line x1="424.87" y1="335.11" x2="430.87" y2="329.11" stroke="#000" stroke-width="1.1" />
<line x1="444.43" y1="326.89" x2="450.43" y2="332.89" stroke="#000" stroke-width="1.1" />
<line x1="444.43" y1="332.89" x2="450.43" y2="326.89" stroke="#000" stroke-width="1.1" />
<polyline points="322.49,352.69 330.07,352.40 349.63,355.49 364.30,352.00 378.97,358.78 388.75,365.60 398.53,368.38 413.20,383.95 427.87,396.35 447.43,402.14" fill="none" stroke="#000" stroke-width="1.1"/>
<circle cx="322.49" cy="352.69" r="2.75" fill="#000"/>
<circle cx="330.07" cy="352.40" r="2.75" fill="#000"/>
<circle cx="349.63" cy="355.49" r="2.75" fill="#000"/>
<circle cx="364.30" cy="352.00" r="2.75" fill="#000"/>
<circle cx="378.97" cy="358.78" r="2.75" fill="#000"/>
<circle cx="388.75" cy="365.60" r="2.75" fill="#000"/>
<circle cx="398.53" cy="368.38" r="2.75" fill="#000"/>
<circle cx="413.20" cy="383.95" r="2.75" fill="#000"/>
<circle cx="427.87" cy="396.35" r="2.75" fill="#000"/>
<circle cx="447.43" cy="402.14" r="2.75" fill="#000"/>
<text font-size="6.5" font-weight="bold" text-anchor="start" fill="#000" stroke="#000" stroke-width="0.28" transform="translate(454.80 404.00)">*</text>
<rect x="462.40" y="343.50" width="57.20" height="34.00" fill="#fff" stroke="#000" stroke-width="1.1"/>
<line x1="467.50" y1="351.50" x2="477.50" y2="351.50" stroke="#000" stroke-width="1.1" />
<line x1="470.34" y1="349.34" x2="474.66" y2="353.66" stroke="#000" stroke-width="1.1" />
<line x1="470.34" y1="353.66" x2="474.66" y2="349.34" stroke="#000" stroke-width="1.1" />
<text font-size="6.6" text-anchor="start" fill="#111" stroke="#111" stroke-width="0.18" transform="translate(482.00 353.80)">Vehicle</text>
<line x1="467.50" y1="361.90" x2="477.50" y2="361.90" stroke="#000" stroke-width="1.1" />
<circle cx="472.50" cy="361.90" r="1.98" fill="#000"/>
<text font-size="6.6" text-anchor="start" fill="#111" stroke="#111" stroke-width="0.18" transform="translate(482.00 364.20)">Futibatinib;</text>
<text font-size="6.6" text-anchor="start" fill="#111" stroke="#111" stroke-width="0.18" transform="translate(482.00 372.30)">5 mg/kg</text>
<line x1="166.80" y1="505.00" x2="166.80" y2="655.60" stroke="#000" stroke-width="1.3" />
<line x1="166.20" y1="655.00" x2="312.36" y2="655.00" stroke="#000" stroke-width="1.3" />
<line x1="166.80" y1="655.00" x2="166.80" y2="658.00" stroke="#000" stroke-width="1.2" />
<text transform="translate(167.30 667.10) scale(1 1.15)" font-size="8" text-anchor="middle" fill="#333" stroke="#333" stroke-width="0.28">0</text>
<line x1="184.92" y1="655.00" x2="184.92" y2="658.00" stroke="#000" stroke-width="1.2" />
<text transform="translate(185.42 667.10) scale(1 1.15)" font-size="8" text-anchor="middle" fill="#333" stroke="#333" stroke-width="0.28">2</text>
<line x1="203.04" y1="655.00" x2="203.04" y2="658.00" stroke="#000" stroke-width="1.2" />
<text transform="translate(203.54 667.10) scale(1 1.15)" font-size="8" text-anchor="middle" fill="#333" stroke="#333" stroke-width="0.28">4</text>
<line x1="221.16" y1="655.00" x2="221.16" y2="658.00" stroke="#000" stroke-width="1.2" />
<text transform="translate(221.66 667.10) scale(1 1.15)" font-size="8" text-anchor="middle" fill="#333" stroke="#333" stroke-width="0.28">6</text>
<line x1="239.28" y1="655.00" x2="239.28" y2="658.00" stroke="#000" stroke-width="1.2" />
<text transform="translate(239.78 667.10) scale(1 1.15)" font-size="8" text-anchor="middle" fill="#333" stroke="#333" stroke-width="0.28">8</text>
<line x1="257.40" y1="655.00" x2="257.40" y2="658.00" stroke="#000" stroke-width="1.2" />
<text transform="translate(257.90 667.10) scale(1 1.15)" font-size="8" text-anchor="middle" fill="#333" stroke="#333" stroke-width="0.28">10</text>
<line x1="275.52" y1="655.00" x2="275.52" y2="658.00" stroke="#000" stroke-width="1.2" />
<text transform="translate(276.02 667.10) scale(1 1.15)" font-size="8" text-anchor="middle" fill="#333" stroke="#333" stroke-width="0.28">12</text>
<line x1="293.64" y1="655.00" x2="293.64" y2="658.00" stroke="#000" stroke-width="1.2" />
<text transform="translate(294.14 667.10) scale(1 1.15)" font-size="8" text-anchor="middle" fill="#333" stroke="#333" stroke-width="0.28">14</text>
<line x1="311.76" y1="655.00" x2="311.76" y2="658.00" stroke="#000" stroke-width="1.2" />
<text transform="translate(312.26 667.10) scale(1 1.15)" font-size="8" text-anchor="middle" fill="#333" stroke="#333" stroke-width="0.28">16</text>
<line x1="163.40" y1="655.00" x2="166.80" y2="655.00" stroke="#000" stroke-width="1.2" />
<text transform="translate(161.00 658.10) scale(1 1.15)" font-size="8" text-anchor="end" fill="#333" stroke="#333" stroke-width="0.28">0.0</text>
<line x1="163.40" y1="630.10" x2="166.80" y2="630.10" stroke="#000" stroke-width="1.2" />
<text transform="translate(161.00 633.20) scale(1 1.15)" font-size="8" text-anchor="end" fill="#333" stroke="#333" stroke-width="0.28">0.5</text>
<line x1="163.40" y1="605.20" x2="166.80" y2="605.20" stroke="#000" stroke-width="1.2" />
<text transform="translate(161.00 608.30) scale(1 1.15)" font-size="8" text-anchor="end" fill="#333" stroke="#333" stroke-width="0.28">1.0</text>
<line x1="163.40" y1="580.30" x2="166.80" y2="580.30" stroke="#000" stroke-width="1.2" />
<text transform="translate(161.00 583.40) scale(1 1.15)" font-size="8" text-anchor="end" fill="#333" stroke="#333" stroke-width="0.28">1.5</text>
<line x1="163.40" y1="555.40" x2="166.80" y2="555.40" stroke="#000" stroke-width="1.2" />
<text transform="translate(161.00 558.50) scale(1 1.15)" font-size="8" text-anchor="end" fill="#333" stroke="#333" stroke-width="0.28">2.0</text>
<line x1="163.40" y1="530.50" x2="166.80" y2="530.50" stroke="#000" stroke-width="1.2" />
<text transform="translate(161.00 533.60) scale(1 1.15)" font-size="8" text-anchor="end" fill="#333" stroke="#333" stroke-width="0.28">2.5</text>
<line x1="163.40" y1="505.60" x2="166.80" y2="505.60" stroke="#000" stroke-width="1.2" />
<text transform="translate(161.00 508.70) scale(1 1.15)" font-size="8" text-anchor="end" fill="#333" stroke="#333" stroke-width="0.28">3.0</text>
<text font-size="8.3" font-weight="bold" text-anchor="middle" fill="#000" stroke="#000" stroke-width="0.28" transform="translate(240.00 677.60)">Days</text>
<text font-size="8.7" font-weight="bold" text-anchor="middle" fill="#000" stroke="#000" stroke-width="0.28" transform="translate(138.40 578.20) rotate(-90)">Relative tumor volume</text>
<text font-size="8.2" font-weight="bold" text-anchor="middle" fill="#000" stroke="#000" stroke-width="0.28" transform="translate(241.00 487.60)">MFM-223: once-daily dosing</text>
<line x1="166.80" y1="605.20" x2="312.00" y2="605.20" stroke="#aaa" stroke-width="0.9" stroke-dasharray="3.5 2.5"/>
<line x1="203.50" y1="592.75" x2="203.50" y2="571.34" stroke="#4a4a4a" stroke-width="0.95" />
<line x1="201.70" y1="592.75" x2="205.30" y2="592.75" stroke="#4a4a4a" stroke-width="0.95" />
<line x1="201.70" y1="571.34" x2="205.30" y2="571.34" stroke="#4a4a4a" stroke-width="0.95" />
<line x1="239.50" y1="600.22" x2="239.50" y2="561.87" stroke="#4a4a4a" stroke-width="0.95" />
<line x1="237.70" y1="600.22" x2="241.30" y2="600.22" stroke="#4a4a4a" stroke-width="0.95" />
<line x1="237.70" y1="561.87" x2="241.30" y2="561.87" stroke="#4a4a4a" stroke-width="0.95" />
<line x1="266.50" y1="581.79" x2="266.50" y2="551.91" stroke="#4a4a4a" stroke-width="0.95" />
<line x1="264.70" y1="581.79" x2="268.30" y2="581.79" stroke="#4a4a4a" stroke-width="0.95" />
<line x1="264.70" y1="551.91" x2="268.30" y2="551.91" stroke="#4a4a4a" stroke-width="0.95" />
<line x1="302.50" y1="566.85" x2="302.50" y2="517.55" stroke="#4a4a4a" stroke-width="0.95" />
<line x1="300.70" y1="566.85" x2="304.30" y2="566.85" stroke="#4a4a4a" stroke-width="0.95" />
<line x1="300.70" y1="517.55" x2="304.30" y2="517.55" stroke="#4a4a4a" stroke-width="0.95" />
<line x1="203.50" y1="605.20" x2="203.50" y2="587.77" stroke="#4a4a4a" stroke-width="0.95" />
<line x1="201.70" y1="605.20" x2="205.30" y2="605.20" stroke="#4a4a4a" stroke-width="0.95" />
<line x1="201.70" y1="587.77" x2="205.30" y2="587.77" stroke="#4a4a4a" stroke-width="0.95" />
<line x1="239.50" y1="620.14" x2="239.50" y2="595.24" stroke="#4a4a4a" stroke-width="0.95" />
<line x1="237.70" y1="620.14" x2="241.30" y2="620.14" stroke="#4a4a4a" stroke-width="0.95" />
<line x1="237.70" y1="595.24" x2="241.30" y2="595.24" stroke="#4a4a4a" stroke-width="0.95" />
<line x1="266.50" y1="612.67" x2="266.50" y2="593.75" stroke="#4a4a4a" stroke-width="0.95" />
<line x1="264.70" y1="612.67" x2="268.30" y2="612.67" stroke="#4a4a4a" stroke-width="0.95" />
<line x1="264.70" y1="593.75" x2="268.30" y2="593.75" stroke="#4a4a4a" stroke-width="0.95" />
<line x1="302.50" y1="602.71" x2="302.50" y2="566.85" stroke="#4a4a4a" stroke-width="0.95" />
<line x1="300.70" y1="602.71" x2="304.30" y2="602.71" stroke="#4a4a4a" stroke-width="0.95" />
<line x1="300.70" y1="566.85" x2="304.30" y2="566.85" stroke="#4a4a4a" stroke-width="0.95" />
<line x1="203.50" y1="607.69" x2="203.50" y2="590.26" stroke="#4a4a4a" stroke-width="0.95" />
<line x1="201.70" y1="607.69" x2="205.30" y2="607.69" stroke="#4a4a4a" stroke-width="0.95" />
<line x1="201.70" y1="590.26" x2="205.30" y2="590.26" stroke="#4a4a4a" stroke-width="0.95" />
<line x1="239.50" y1="621.14" x2="239.50" y2="600.22" stroke="#4a4a4a" stroke-width="0.95" />
<line x1="237.70" y1="621.14" x2="241.30" y2="621.14" stroke="#4a4a4a" stroke-width="0.95" />
<line x1="237.70" y1="600.22" x2="241.30" y2="600.22" stroke="#4a4a4a" stroke-width="0.95" />
<line x1="266.50" y1="619.14" x2="266.50" y2="602.71" stroke="#4a4a4a" stroke-width="0.95" />
<line x1="264.70" y1="619.14" x2="268.30" y2="619.14" stroke="#4a4a4a" stroke-width="0.95" />
<line x1="264.70" y1="602.71" x2="268.30" y2="602.71" stroke="#4a4a4a" stroke-width="0.95" />
<line x1="302.50" y1="612.67" x2="302.50" y2="594.24" stroke="#4a4a4a" stroke-width="0.95" />
<line x1="300.70" y1="612.67" x2="304.30" y2="612.67" stroke="#4a4a4a" stroke-width="0.95" />
<line x1="300.70" y1="594.24" x2="304.30" y2="594.24" stroke="#4a4a4a" stroke-width="0.95" />
<line x1="203.50" y1="609.18" x2="203.50" y2="592.75" stroke="#4a4a4a" stroke-width="0.95" />
<line x1="201.70" y1="609.18" x2="205.30" y2="609.18" stroke="#4a4a4a" stroke-width="0.95" />
<line x1="201.70" y1="592.75" x2="205.30" y2="592.75" stroke="#4a4a4a" stroke-width="0.95" />
<line x1="239.50" y1="622.63" x2="239.50" y2="604.20" stroke="#4a4a4a" stroke-width="0.95" />
<line x1="237.70" y1="622.63" x2="241.30" y2="622.63" stroke="#4a4a4a" stroke-width="0.95" />
<line x1="237.70" y1="604.20" x2="241.30" y2="604.20" stroke="#4a4a4a" stroke-width="0.95" />
<line x1="266.50" y1="621.14" x2="266.50" y2="606.20" stroke="#4a4a4a" stroke-width="0.95" />
<line x1="264.70" y1="621.14" x2="268.30" y2="621.14" stroke="#4a4a4a" stroke-width="0.95" />
<line x1="264.70" y1="606.20" x2="268.30" y2="606.20" stroke="#4a4a4a" stroke-width="0.95" />
<line x1="302.50" y1="622.13" x2="302.50" y2="603.71" stroke="#4a4a4a" stroke-width="0.95" />
<line x1="300.70" y1="622.13" x2="304.30" y2="622.13" stroke="#4a4a4a" stroke-width="0.95" />
<line x1="300.70" y1="603.71" x2="304.30" y2="603.71" stroke="#4a4a4a" stroke-width="0.95" />
<line x1="203.50" y1="614.16" x2="203.50" y2="597.73" stroke="#4a4a4a" stroke-width="0.95" />
<line x1="201.70" y1="614.16" x2="205.30" y2="614.16" stroke="#4a4a4a" stroke-width="0.95" />
<line x1="201.70" y1="597.73" x2="205.30" y2="597.73" stroke="#4a4a4a" stroke-width="0.95" />
<line x1="239.50" y1="624.12" x2="239.50" y2="605.20" stroke="#4a4a4a" stroke-width="0.95" />
<line x1="237.70" y1="624.12" x2="241.30" y2="624.12" stroke="#4a4a4a" stroke-width="0.95" />
<line x1="237.70" y1="605.20" x2="241.30" y2="605.20" stroke="#4a4a4a" stroke-width="0.95" />
<line x1="266.50" y1="622.13" x2="266.50" y2="606.20" stroke="#4a4a4a" stroke-width="0.95" />
<line x1="264.70" y1="622.13" x2="268.30" y2="622.13" stroke="#4a4a4a" stroke-width="0.95" />
<line x1="264.70" y1="606.20" x2="268.30" y2="606.20" stroke="#4a4a4a" stroke-width="0.95" />
<line x1="302.50" y1="626.12" x2="302.50" y2="606.20" stroke="#4a4a4a" stroke-width="0.95" />
<line x1="300.70" y1="626.12" x2="304.30" y2="626.12" stroke="#4a4a4a" stroke-width="0.95" />
<line x1="300.70" y1="606.20" x2="304.30" y2="606.20" stroke="#4a4a4a" stroke-width="0.95" />
<polyline points="175.86,604.20 203.04,582.29 239.28,580.80 266.46,566.85 302.70,544.44" fill="none" stroke="#000" stroke-width="1.1"/>
<line x1="173.16" y1="601.50" x2="178.56" y2="606.90" stroke="#000" stroke-width="1.1" />
<line x1="173.16" y1="606.90" x2="178.56" y2="601.50" stroke="#000" stroke-width="1.1" />
<line x1="200.34" y1="579.59" x2="205.74" y2="584.99" stroke="#000" stroke-width="1.1" />
<line x1="200.34" y1="584.99" x2="205.74" y2="579.59" stroke="#000" stroke-width="1.1" />
<line x1="236.58" y1="578.10" x2="241.98" y2="583.50" stroke="#000" stroke-width="1.1" />
<line x1="236.58" y1="583.50" x2="241.98" y2="578.10" stroke="#000" stroke-width="1.1" />
<line x1="263.76" y1="564.15" x2="269.16" y2="569.55" stroke="#000" stroke-width="1.1" />
<line x1="263.76" y1="569.55" x2="269.16" y2="564.15" stroke="#000" stroke-width="1.1" />
<line x1="300.00" y1="541.74" x2="305.40" y2="547.14" stroke="#000" stroke-width="1.1" />
<line x1="300.00" y1="547.14" x2="305.40" y2="541.74" stroke="#000" stroke-width="1.1" />
<polyline points="175.86,604.20 203.04,595.74 239.28,607.69 266.46,602.21 302.70,585.28" fill="none" stroke="#000" stroke-width="1.1"/>
<circle cx="175.86" cy="604.20" r="2.48" fill="#000"/>
<circle cx="203.04" cy="595.74" r="2.48" fill="#000"/>
<circle cx="239.28" cy="607.69" r="2.48" fill="#000"/>
<circle cx="266.46" cy="602.21" r="2.48" fill="#000"/>
<circle cx="302.70" cy="585.28" r="2.48" fill="#000"/>
<polyline points="175.86,604.20 203.04,597.73 239.28,610.18 266.46,611.18 302.70,602.71" fill="none" stroke="#000" stroke-width="1.1"/>
<rect x="173.52" y="601.86" width="4.68" height="4.68" fill="#000" stroke="none" stroke-width="0"/>
<rect x="200.70" y="595.39" width="4.68" height="4.68" fill="#000" stroke="none" stroke-width="0"/>
<rect x="236.94" y="607.84" width="4.68" height="4.68" fill="#000" stroke="none" stroke-width="0"/>
<rect x="264.12" y="608.84" width="4.68" height="4.68" fill="#000" stroke="none" stroke-width="0"/>
<rect x="300.36" y="600.37" width="4.68" height="4.68" fill="#000" stroke="none" stroke-width="0"/>
<polyline points="175.86,604.20 203.04,599.72 239.28,612.17 266.46,613.67 302.70,612.67" fill="none" stroke="#000" stroke-width="1.1"/>
<polygon points="175.86,601.50 178.56,604.20 175.86,606.90 173.16,604.20" fill="#000"/>
<polygon points="203.04,597.02 205.74,599.72 203.04,602.42 200.34,599.72" fill="#000"/>
<polygon points="239.28,609.47 241.98,612.17 239.28,614.87 236.58,612.17" fill="#000"/>
<polygon points="266.46,610.97 269.16,613.67 266.46,616.37 263.76,613.67" fill="#000"/>
<polygon points="302.70,609.97 305.40,612.67 302.70,615.37 300.00,612.67" fill="#000"/>
<polyline points="175.86,604.20 203.04,605.20 239.28,613.67 266.46,614.16 302.70,615.16" fill="none" stroke="#000" stroke-width="1.1"/>
<polygon points="175.86,601.50 178.56,606.36 173.16,606.36" fill="#000"/>
<polygon points="203.04,602.50 205.74,607.36 200.34,607.36" fill="#000"/>
<polygon points="239.28,610.97 241.98,615.83 236.58,615.83" fill="#000"/>
<polygon points="266.46,611.46 269.16,616.32 263.76,616.32" fill="#000"/>
<polygon points="302.70,612.46 305.40,617.32 300.00,617.32" fill="#000"/>
<text font-size="6.5" font-weight="bold" text-anchor="start" fill="#000" stroke="#000" stroke-width="0.28" transform="translate(308.00 585.90)">*</text>
<text font-size="6.5" font-weight="bold" text-anchor="start" fill="#000" stroke="#000" stroke-width="0.28" transform="translate(308.00 603.90)">*</text>
<text font-size="6.5" font-weight="bold" text-anchor="start" fill="#000" stroke="#000" stroke-width="0.28" transform="translate(308.00 615.20)">*</text>
<text font-size="6.5" font-weight="bold" text-anchor="start" fill="#000" stroke="#000" stroke-width="0.28" transform="translate(308.00 619.40)">*</text>
<rect x="321.30" y="520.00" width="60.40" height="93.20" fill="#fff" stroke="#000" stroke-width="1.1"/>
<line x1="326.00" y1="530.50" x2="336.00" y2="530.50" stroke="#000" stroke-width="1.1" />
<line x1="328.45" y1="527.95" x2="333.55" y2="533.05" stroke="#000" stroke-width="1.1" />
<line x1="328.45" y1="533.05" x2="333.55" y2="527.95" stroke="#000" stroke-width="1.1" />
<text font-size="6.6" text-anchor="start" fill="#111" stroke="#111" stroke-width="0.18" transform="translate(339.90 532.80)">Vehicle</text>
<line x1="326.00" y1="540.70" x2="336.00" y2="540.70" stroke="#000" stroke-width="1.1" />
<circle cx="331.00" cy="540.70" r="2.34" fill="#000"/>
<text font-size="6.6" text-anchor="start" fill="#111" stroke="#111" stroke-width="0.18" transform="translate(339.90 543.00)">Futibatinib;</text>
<text font-size="6.6" text-anchor="start" fill="#111" stroke="#111" stroke-width="0.18" transform="translate(339.90 551.40)">6.3 mg/kg</text>
<line x1="326.00" y1="559.30" x2="336.00" y2="559.30" stroke="#000" stroke-width="1.1" />
<rect x="328.79" y="557.09" width="4.42" height="4.42" fill="#000" stroke="none" stroke-width="0"/>
<text font-size="6.6" text-anchor="start" fill="#111" stroke="#111" stroke-width="0.18" transform="translate(339.90 561.60)">Futibatinib;</text>
<text font-size="6.6" text-anchor="start" fill="#111" stroke="#111" stroke-width="0.18" transform="translate(339.90 570.00)">12.5 mg/kg</text>
<line x1="326.00" y1="577.90" x2="336.00" y2="577.90" stroke="#000" stroke-width="1.1" />
<polygon points="331.00,575.35 333.55,577.90 331.00,580.45 328.45,577.90" fill="#000"/>
<text font-size="6.6" text-anchor="start" fill="#111" stroke="#111" stroke-width="0.18" transform="translate(339.90 580.20)">Futibatinib;</text>
<text font-size="6.6" text-anchor="start" fill="#111" stroke="#111" stroke-width="0.18" transform="translate(339.90 588.60)">25 mg/kg</text>
<line x1="326.00" y1="596.50" x2="336.00" y2="596.50" stroke="#000" stroke-width="1.1" />
<polygon points="331.00,593.95 333.55,598.54 328.45,598.54" fill="#000"/>
<text font-size="6.6" text-anchor="start" fill="#111" stroke="#111" stroke-width="0.18" transform="translate(339.90 598.80)">Futibatinib;</text>
<text font-size="6.6" text-anchor="start" fill="#111" stroke="#111" stroke-width="0.18" transform="translate(339.90 607.20)">50 mg/kg</text>
</svg>
</body></html>
